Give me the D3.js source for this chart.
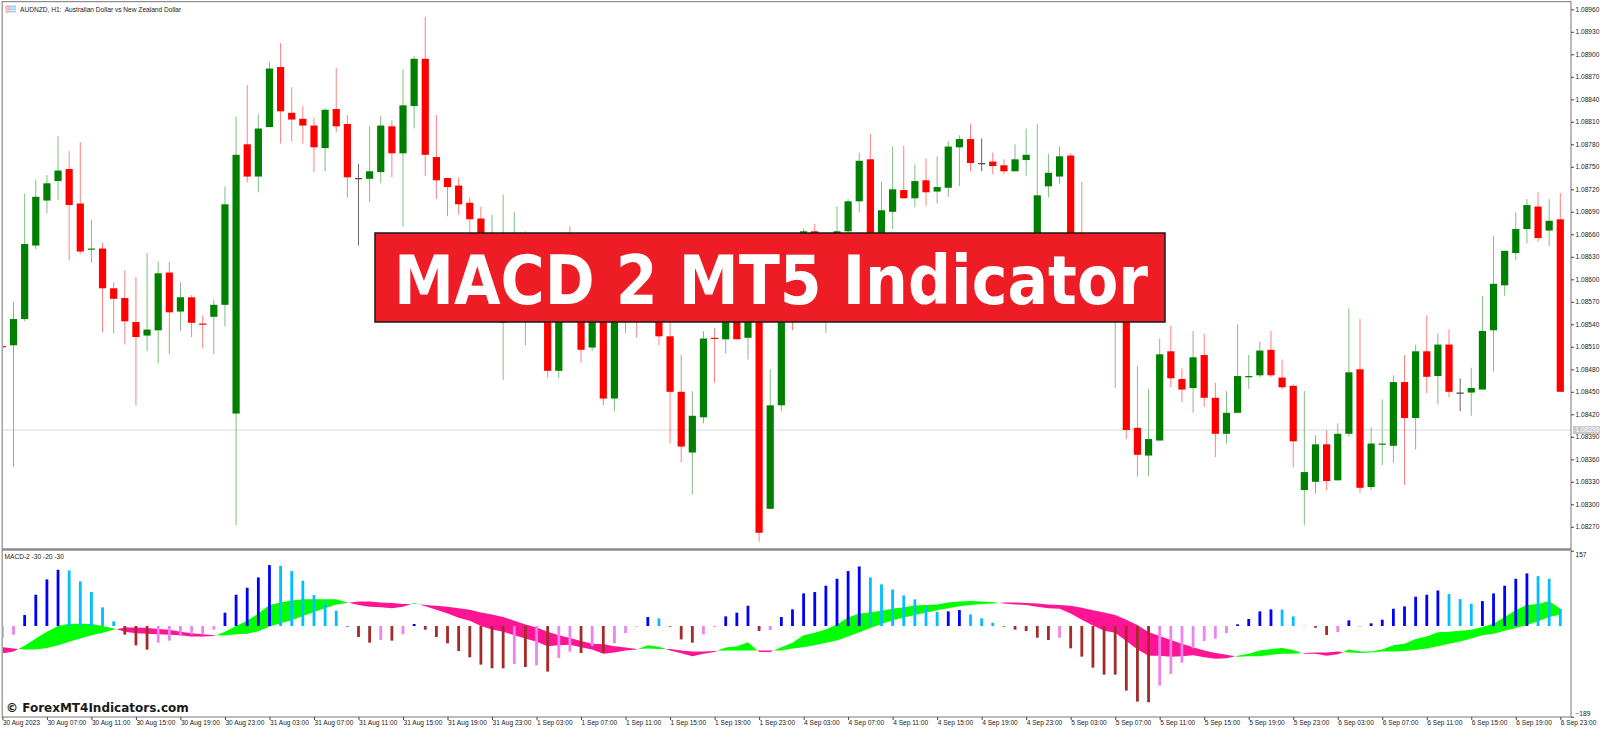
<!DOCTYPE html>
<html>
<head>
<meta charset="utf-8">
<title>MACD 2 MT5 Indicator</title>
<script src="https://cdnjs.cloudflare.com/ajax/libs/d3/7.8.5/d3.min.js"></script>
<style>
html, body { margin: 0; padding: 0; background: #fff; }
svg { display: block; }
text { font-family: "Liberation Sans", sans-serif; }
.tiny { font-size: 6.6px; fill: #222; }
</style>
</head>
<body>
<div id="chart"></div>
<script>
// all prices are in points above 1.08000
var opens = [
	511,512,547,645,705,731,747,701,640,641,588,575,543,525,532,609,557,576,541,550,
	566,421,780,737,803,883,822,814,805,775,827,807,735,734,743,804,768,831,894,763,
	735,725,702,681,632,542,619,639,599,592,478,619,586,509,612,441,566,586,592,572,
	524,450,369,416,522,520,572,522,599,294,432,612,599,664,586,639,664,704,760,599,
	690,719,708,732,717,722,776,787,755,757,752,744,759,626,724,737,765,639,619,586,
	572,572,402,365,385,504,467,455,499,442,394,422,470,472,506,469,458,319,330,380,
	332,394,480,323,380,378,463,415,504,471,513,449,449,453,532,592,635,667,697,665,
	680];
var highs = [
	511,570,714,733,739,791,771,783,679,649,596,612,603,635,624,623,596,579,552,573,
	724,817,859,820,890,915,856,831,815,828,882,819,754,804,818,812,880,898,950,819,
	735,736,709,697,686,713,690,664,612,612,599,671,612,639,632,626,612,612,612,592,
	572,499,451,531,535,592,599,612,626,480,658,639,668,674,652,697,707,769,794,730,
	777,778,753,761,764,784,792,807,788,769,760,780,801,807,767,777,768,730,652,646,
	639,599,484,454,521,538,481,531,527,462,451,540,499,517,531,493,460,451,392,399,
	408,561,547,403,440,472,499,513,552,528,533,468,482,578,658,638,689,707,716,707,
	715];
var lows = [
	510,350,544,640,688,706,625,634,622,529,528,513,432,504,488,500,531,523,508,500,
	537,272,729,716,803,781,784,781,743,744,796,709,645,703,728,736,670,801,738,707,
	684,686,658,639,612,466,606,512,559,469,468,559,489,504,432,424,528,522,552,512,
	381,356,313,408,462,501,520,493,250,294,424,532,572,626,528,626,652,689,572,572,
	667,708,696,698,701,710,724,744,744,740,740,744,738,606,709,727,572,572,572,559,
	455,387,337,337,385,456,436,422,430,363,381,422,454,469,470,453,349,272,314,319,
	331,390,315,319,352,355,326,373,448,433,443,424,418,453,477,578,625,648,650,644,
	450];
var closes = [
	510,547,647,710,728,745,699,637,641,588,574,544,523,533,608,556,576,542,540,566,
	700,766,737,801,881,824,813,805,776,826,804,736,735,744,805,768,832,894,766,732,
	723,700,680,652,659,619,652,572,572,478,586,579,506,612,441,612,592,559,566,524,
	450,377,418,521,521,572,520,599,262,432,652,572,664,639,639,664,704,758,586,692,
	720,708,731,716,723,777,787,755,755,751,744,760,766,712,742,764,599,599,586,632,
	612,399,366,387,500,468,453,496,442,394,422,471,471,505,472,456,384,343,380,331,
	394,476,322,381,381,463,415,504,470,513,450,449,455,531,594,638,667,699,655,678,
	450];

var hist = [
	-25,-18,22.9,65.2,97.2,117.3,115.9,93,70.8,38.9,9.7,-18,-40.3,-49.3,-34.7,-30.5,-20.8,-17.4,-17,-7.6,
	27.8,65.2,79.8,101.3,127,125.6,114.5,94.4,64.5,48.6,31.9,-1.4,-22.9,-34.7,-29.1,-30.5,-17.4,4.2,-7.6,-22.9,
	-36,-52,-65.2,-80.5,-88.1,-88.1,-79.1,-85.4,-81.9,-95,-66.6,-53.4,-56.2,-41.6,-55.5,-36,-14.6,-1.4,18.7,16,
	-1.4,-27.8,-34.7,-17.4,-2,20.1,27.8,42.3,-10.4,-8.3,18.7,34.7,68,70.8,84,98.5,114.5,124.2,101.3,86.8,
	76.3,63.8,55.5,40.3,29.1,30.5,33.3,24.3,16,6.9,-1.4,-7.6,-10.4,-24.3,-29.1,-24.3,-46.5,-63.8,-86.8,-101.3,
	-101.3,-134.6,-157.5,-158.9,-124.2,-99.9,-76.3,-46.5,-31.2,-26.4,-14.6,3.5,14.6,30.5,34.7,34.2,20.1,0.7,-3.5,-18.7,
	-12.5,11.8,-0.7,5.6,13.2,36,40.9,61,65.2,74.2,66.6,56.2,46.5,52,68,84,98.5,109.7,104,98.5,
	36];
var fast = [
	-57,-53,-41,-26,-12,0,5,5,4,0,-5,-12,-15,-16,-17,-18,-19,-22,-22,-21,
	-12,0,11,26,44,49,53,56,56,56,56,49,44,40,39,37,40,48,41,34,
	26,17,11,0,-7,-12,-19,-26,-33,-42,-40,-39,-44,-49,-58,-55,-51,-49,-40,-43,
	-51,-57,-63,-58,-54,-45,-42,-34,-54,-54,-44,-35,-19,-14,-7,3,18,26,28,32,
	36,39,43,44,45,49,51,52,51,50,47,45,44,40,37,36,26,13,1,-10,
	-14,-31,-49,-62,-62,-64,-63,-61,-65,-68,-67,-62,-58,-51,-48,-46,-50,-58,-58,-62,
	-59,-49,-53,-53,-49,-40,-37,-27,-22,-13,-12,-10,-8,-2,5,19,33,44,46,52,
	36];
var slow = [
	-44,-47,-49,-49,-46,-40,-33,-26,-19,-14,-8,-3,-3,-4,-6,-8,-12,-15,-17,-19,
	-20,-17,-16,-11,-1,6,12,21,29,37,45,48,51,51,49,48,46,46,44,42,
	40,37,34,28,24,19,11,3,-3,-12,-19,-25,-31,-37,-38,-42,-45,-48,-47,-48,
	-48,-51,-53,-53,-52,-51,-51,-51,-51,-51,-51,-47,-44,-40,-35,-30,-22,-13,-4,4,
	12,18,23,28,33,37,41,44,46,47,49,49,48,47,45,44,42,38,33,28,
	23,13,2,-13,-21,-29,-37,-44,-51,-56,-60,-64,-63,-63,-60,-58,-58,-56,-55,-55,
	-53,-55,-56,-55,-53,-53,-52,-50,-47,-42,-37,-32,-26,-19,-16,-10,-4,2,10,19,
	24];

var timeLabels = [
	"30 Aug 2023","30 Aug 07:00","30 Aug 11:00","30 Aug 15:00","30 Aug 19:00","30 Aug 23:00",
	"31 Aug 03:00","31 Aug 07:00","31 Aug 11:00","31 Aug 15:00","31 Aug 19:00","31 Aug 23:00",
	"1 Sep 03:00","1 Sep 07:00","1 Sep 11:00","1 Sep 15:00","1 Sep 19:00","1 Sep 23:00",
	"4 Sep 03:00","4 Sep 07:00","4 Sep 11:00","4 Sep 15:00","4 Sep 19:00","4 Sep 23:00",
	"5 Sep 03:00","5 Sep 07:00","5 Sep 11:00","5 Sep 15:00","5 Sep 19:00","5 Sep 23:00",
	"6 Sep 03:00","6 Sep 07:00","6 Sep 11:00","6 Sep 15:00","6 Sep 19:00","6 Sep 23:00"];
var priceTicks = [
	1.0896,1.0893,1.0890,1.0887,1.0884,1.0881,1.0878,1.0875,1.0872,1.0869,1.0866,1.0863,
	1.0860,1.0857,1.0854,1.0851,1.0848,1.0845,1.0842,1.0839,1.0836,1.0833,1.0830,1.0827];
var macdTicks = [157, -189];
var lastPrice = 1.08399;
var title = "AUDNZD, H1:  Australian Dollar vs New Zealand Dollar";
var macdTitle = "MACD-2 -30 -20 -30";

(function() {
	var width = 1600,
		height = 729,
		left = 3,
		right = 1571,
		top = 2.5,
		split = 549.5,
		bottom = 717;

	var svg = d3.select("#chart").append("svg")
		.attr("width", width)
		.attr("height", height);

	var x = d3.scaleLinear().domain([0, 140]).range([2.4, 1560.3]);
	var y = d3.scaleLinear().domain([1.0896, 1.0827]).range([9.3, 526.8]);
	var yMacd = d3.scaleLinear().domain([157, -189]).range([550.7, 716.7]);
	var price = function(p) { return y(1.08 + p / 100000); };

	svg.append("defs").append("clipPath").attr("id", "main")
		.append("rect").attr("x", left).attr("y", top).attr("width", right - left).attr("height", split - top);
	svg.select("defs").append("clipPath").attr("id", "sub")
		.append("rect").attr("x", left).attr("y", split).attr("width", right - left).attr("height", bottom - split);

	var index = d3.range(opens.length);
	var candleColor = function(i) {
		if (opens[i] === closes[i]) return "#444";
		return closes[i] > opens[i] ? "#008000" : "#ff0000";
	};
	var wickColor = function(i) {
		if (opens[i] === closes[i]) return "#666";
		return closes[i] > opens[i] ? "#80bf80" : "#ff8080";
	};

	// last price line sits behind the candles
	svg.append("line")
		.attr("x1", left).attr("x2", right)
		.attr("y1", y(lastPrice)).attr("y2", y(lastPrice))
		.attr("stroke", "#d8d8d8").attr("stroke-width", 1);

	var candles = svg.append("g").attr("clip-path", "url(#main)");
	candles.selectAll(".wick").data(index).enter().append("line")
		.attr("class", "wick")
		.attr("x1", function(i) { return x(i); })
		.attr("x2", function(i) { return x(i); })
		.attr("y1", function(i) { return price(highs[i]); })
		.attr("y2", function(i) { return price(lows[i]); })
		.attr("stroke", wickColor)
		.attr("stroke-width", 1);
	candles.selectAll(".body").data(index).enter().append("rect")
		.attr("class", "body")
		.attr("x", function(i) { return x(i) - 3.6; })
		.attr("width", 7.2)
		.attr("y", function(i) { return price(Math.max(opens[i], closes[i])); })
		.attr("height", function(i) { return Math.max(1.2, Math.abs(price(opens[i]) - price(closes[i]))); })
		.style("fill", candleColor);

	// cloud between the two averages, crossings added so the colours meet cleanly
	var cloud = [];
	index.forEach(function(i) {
		if (i > 0) {
			var d0 = fast[i - 1] - slow[i - 1], d1 = fast[i] - slow[i];
			if (d0 * d1 < 0) {
				var t = d0 / (d0 - d1);
				var v = slow[i - 1] + t * (slow[i] - slow[i - 1]);
				cloud.push({ i: i - 1 + t, fast: v, slow: v });
			}
		}
		cloud.push({ i: i, fast: fast[i], slow: slow[i] });
	});
	var sub = svg.append("g").attr("clip-path", "url(#sub)");
	sub.append("path").datum(cloud)
		.attr("d", d3.area()
			.x(function(d) { return x(d.i); })
			.y0(function(d) { return yMacd(d.slow); })
			.y1(function(d) { return yMacd(Math.max(d.fast, d.slow)); }))
		.style("fill", "#00ff00");
	sub.append("path").datum(cloud)
		.attr("d", d3.area()
			.x(function(d) { return x(d.i); })
			.y0(function(d) { return yMacd(d.slow); })
			.y1(function(d) { return yMacd(Math.min(d.fast, d.slow)); }))
		.style("fill", "#ff1493");

	var histColor = function(i) {
		var v = hist[i], falling = i > 0 && v <= hist[i - 1];
		if (v >= 0) return falling ? "#00bfff" : "#0000ff";
		return falling ? "#a52a2a" : "#ee82ee";
	};
	sub.selectAll(".hist").data(index).enter().append("rect")
		.attr("class", "hist")
		.attr("x", function(i) { return x(i) - 1.4; })
		.attr("width", 2.8)
		.attr("y", function(i) { return yMacd(Math.max(0, hist[i])); })
		.attr("height", function(i) { return Math.abs(yMacd(hist[i]) - yMacd(0)); })
		.style("fill", histColor);

	// frame
	var frame = svg.append("g").attr("stroke", "#8c8c8c").attr("fill", "none");
	frame.append("rect").attr("x", 2.2).attr("y", 1.6).attr("width", right - 2.2).attr("height", bottom - 1.6).attr("stroke-width", 1.2);
	frame.append("line").attr("x1", 2).attr("x2", right).attr("y1", split).attr("y2", split).attr("stroke-width", 2.6);

	// axes
	var priceAxis = svg.append("g").attr("class", "axis")
		.attr("transform", "translate(" + right + ",0)")
		.call(d3.axisRight(y).tickValues(priceTicks).tickSize(3).tickPadding(1.5).tickFormat(d3.format(".5f")));
	var macdAxis = svg.append("g").attr("class", "axis")
		.attr("transform", "translate(" + right + ",0)")
		.call(d3.axisRight(yMacd).tickValues(macdTicks).tickSize(3).tickPadding(1.5).tickFormat(d3.format("d")));
	macdAxis.selectAll("text").attr("dy", function(d) { return d > 0 ? "0.9em" : "-0.2em"; });
	var timeAxis = svg.append("g").attr("class", "axis")
		.attr("transform", "translate(0," + bottom + ")")
		.call(d3.axisBottom(x)
			.tickValues(timeLabels.map(function(d, i) { return i * 4; }))
			.tickSize(3).tickPadding(0.5)
			.tickFormat(function(d) { return timeLabels[d / 4]; }));
	timeAxis.selectAll("text").attr("text-anchor", "start");
	svg.selectAll(".axis .domain").remove();
	svg.selectAll(".axis line").attr("stroke", "#444");
	svg.selectAll(".axis text").attr("class", "tiny").attr("font-family", null).attr("font-size", null);

	// last price tag
	svg.append("rect").attr("x", right + 2).attr("y", y(lastPrice) - 4).attr("width", width - right - 2).attr("height", 8).style("fill", "#c8c8c8");
	svg.append("text").attr("class", "tiny").attr("x", right + 4.5).attr("y", y(lastPrice) + 2.4).style("fill", "#fff").text(d3.format(".5f")(lastPrice));

	// title icon
	var icon = svg.append("g");
	icon.append("rect").attr("x", 5.5).attr("y", 5.5).attr("width", 4.5).attr("height", 7).style("fill", "#f6a5a5");
	icon.append("rect").attr("x", 10).attr("y", 5.5).attr("width", 6).attr("height", 7).style("fill", "#a5cdf0");
	icon.append("path").attr("d", "M5.5 8H16M5.5 10.5H16").attr("stroke", "#fff").attr("stroke-width", 0.7);

	svg.append("text").attr("class", "tiny").attr("x", 20).attr("y", 11.8).attr("xml:space", "preserve").style("white-space", "pre").text(title);
	svg.append("text").attr("class", "tiny").attr("x", 4.5).attr("y", 559).text(macdTitle);

	svg.append("text").attr("x", 6).attr("y", 712)
		.style("font-family", "DejaVu Sans").style("font-weight", "bold").style("font-size", "12px").style("fill", "#1a1a1a")
		.text("\u00a9 ForexMT4Indicators.com");

	// banner
	svg.append("rect").attr("x", 375).attr("y", 233).attr("width", 790).attr("height", 89)
		.style("fill", "#ee1c25").attr("stroke", "#1a1a1a").attr("stroke-width", 1.5);
	svg.append("text").attr("x", 394).attr("y", 304)
		.attr("textLength", 754).attr("lengthAdjust", "spacingAndGlyphs")
		.style("font-family", "DejaVu Sans").style("font-weight", "bold").style("font-size", "68px").style("fill", "#fff")
		.text("MACD 2 MT5 Indicator");
})();
</script>
</body>
</html>
